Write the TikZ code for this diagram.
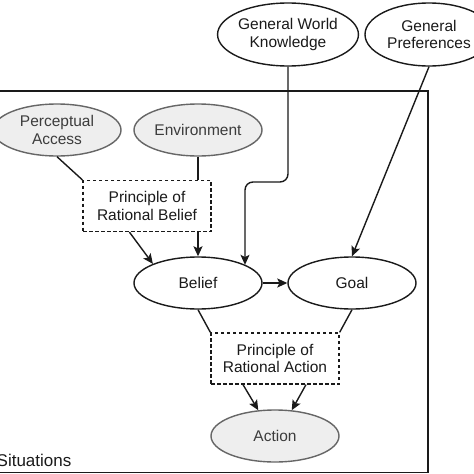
\documentclass[tikz,border=0pt]{standalone}
\usepackage{fontspec}
\setmainfont{Liberation Sans}
\usetikzlibrary{shapes.geometric,arrows.meta,calc}
\definecolor{gfill}{HTML}{EEEEEE}
\definecolor{gline}{HTML}{666666}
\definecolor{ink}{HTML}{1A1A1A}
\begin{document}
\begin{tikzpicture}[x=1pt,y=-1pt,
  every node/.style={font=\fontsize{15.5}{17.8}\selectfont, text=ink, align=center, inner sep=0pt},
  whiteell/.style={ellipse, draw=ink, line width=1.4pt, fill=white, minimum width=128pt, minimum height=52pt},
  grayell/.style={ellipse, draw=gline, line width=1.4pt, fill=gfill, text=ink!85!white, minimum width=128pt, minimum height=52pt},
  princbox/.style={rectangle, draw=ink, line width=1.2pt, dash pattern=on 3.5pt off 2.5pt, fill=white, minimum width=128pt, minimum height=51pt},
  conn/.style={draw=ink, line width=1.4pt},
  arr/.style={conn, -{Stealth[length=10pt,width=9pt,inset=2.2pt]}}]
\useasboundingbox (0,0) rectangle (474,474);
\clip (0,0) rectangle (474,474);
\fill[white] (0,0) rectangle (474,474);
% frame
\draw[ink, line width=1.5pt] (-5,91) rectangle (428,472.5);
\node[anchor=base west, font=\fontsize{17}{19}\selectfont] (sit) at (-3.5,466) {Situations};
% nodes
\node[whiteell, minimum height=63pt] (gwk) at (288,34.5) {General World\\Knowledge};
\node[whiteell, minimum height=63pt] (gp) at (429,34.5) {General\\Preferences};
\node[grayell] (perc) at (57,130) {Perceptual\\Access};
\node[grayell] (env) at (198,130) {Environment};
\node[princbox] (prb) at (147,206) {Principle of\\Rational Belief};
\node[whiteell] (belief) at (198,283) {Belief};
\node[whiteell] (goal) at (352,283) {Goal};
\node[princbox] (pra) at (275,358.5) {Principle of\\Rational Action};
\node[grayell] (action) at (275,436) {Action};
% connectors
\draw[conn] (perc.south) -- (prb.north west);
\draw[conn] (env.south) -- (env.south |- prb.north);
\draw[arr] ($(prb.south west)+(47,0)$) -- (belief.157);
\draw[arr] (belief.north |- prb.south) -- (belief.north);
\coordinate (gk) at (245,182);
\draw[arr, rounded corners=8pt] (gwk.south) |- (gk) -- (gk |- belief.21);
\draw[arr] (gp.south) -- (goal.north);
\draw[arr] (belief.east) -- (goal.west);
\draw[conn] (belief.south) -- (pra.north west);
\draw[conn] (goal.south) -- (pra.north east);
\draw[arr] ([xshift=-32pt]pra.south) -- (action.123);
\draw[arr] ([xshift=31pt]pra.south) -- (action.57);
\end{tikzpicture}
\end{document}
